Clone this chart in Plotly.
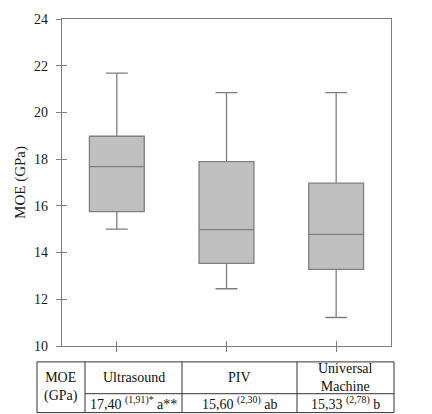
import plotly.graph_objects as go

categories = ["Ultrasound", "PIV", "Universal Machine"]
lower_fence = [15.0, 12.45, 11.22]
q1 = [15.75, 13.54, 13.28]
median = [17.68, 14.98, 14.78]
q3 = [18.98, 17.89, 16.97]
upper_fence = [21.68, 20.85, 20.85]

table_header = ["Ultrasound", "PIV", "Universal<br>Machine"]
table_means = ["17,40", "15,60", "15,33"]
table_sd = ["(1,91)*", "(2,30)", "(2,78)"]
table_letters = ["a**", "ab", "b"]
row_label = "MOE<br>(GPa)"

yticks = [10, 12, 14, 16, 18, 20, 22, 24]

FONT = "Liberation Serif, Times New Roman, serif"
LINE = "#7f7f7f"
FILL = "#c0c0c0"

fig = go.Figure()
fig.add_trace(go.Box(
    x=categories, q1=q1, median=median, q3=q3,
    lowerfence=lower_fence, upperfence=upper_fence,
    fillcolor=FILL, line=dict(color=LINE, width=1.3),
    width=0.5, whiskerwidth=0.4, boxpoints=False, showlegend=False,
    hoverinfo="skip",
))
# invisible trace to hold the overlay axes for crossing ticks
fig.add_trace(go.Scatter(x=[0], y=[yticks[0]], xaxis="x2", yaxis="y2",
                         mode="markers", marker=dict(opacity=0),
                         showlegend=False, hoverinfo="skip"))

L, R, T, B = 62, 41, 17, 68
W, H = 432, 414
pw, ph = W - L - R, H - T - B

def px(x):
    return (x - L) / pw

def py(y):
    return (H - B - y) / ph

fig.update_layout(
    width=W, height=H,
    margin=dict(l=L, r=R, t=T, b=B, pad=0),
    paper_bgcolor="white", plot_bgcolor="white",
    font=dict(family=FONT, size=14, color="#1a1a1a"),
    xaxis=dict(type="category", range=[-0.5, len(categories) - 0.5],
               showline=True, linecolor=LINE, linewidth=1.2, mirror=True,
               ticks="outside", ticklen=5, tickcolor=LINE, tickwidth=1,
               showticklabels=False, showgrid=False, zeroline=False,
               fixedrange=True),
    yaxis=dict(range=[yticks[0], yticks[-1]], tickvals=yticks,
               showline=True, linecolor=LINE, linewidth=1.2, mirror=True,
               ticks="outside", ticklen=5, tickcolor=LINE, tickwidth=1,
               ticklabelstandoff=5,
               showgrid=False, zeroline=False,
               title=dict(text="MOE (GPa)", standoff=4,
                          font=dict(size=15, family=FONT)),
               tickfont=dict(size=14, family=FONT, color="#1a1a1a")),
    xaxis2=dict(overlaying="x", range=[-0.5, len(categories) - 0.5],
                tickvals=list(range(len(categories))),
                ticks="inside", ticklen=5, tickcolor=LINE, tickwidth=1,
                showticklabels=False, showline=False, showgrid=False,
                zeroline=False, anchor="y2"),
    yaxis2=dict(overlaying="y", range=[yticks[0], yticks[-1]], tickvals=yticks,
                ticks="inside", ticklen=5, tickcolor=LINE, tickwidth=1,
                showticklabels=False, showline=False, showgrid=False,
                zeroline=False, anchor="x2"),
)

# table below the chart
tl, tr, tt, tb, tm = 37, 394, 362, 413, 394
cols = [37, 85, 182, 297, 394]
tcol = "#333333"
shapes = []
shapes.append(dict(type="rect", xref="paper", yref="paper",
                   x0=px(tl), x1=px(tr), y0=py(tb), y1=py(tt),
                   line=dict(color=tcol, width=1)))
for c in cols[1:-1]:
    shapes.append(dict(type="line", xref="paper", yref="paper",
                       x0=px(c), x1=px(c), y0=py(tb), y1=py(tt),
                       line=dict(color=tcol, width=1)))
shapes.append(dict(type="line", xref="paper", yref="paper",
                   x0=px(cols[1]), x1=px(tr), y0=py(tm), y1=py(tm),
                   line=dict(color=tcol, width=1)))
fig.update_layout(shapes=shapes)

ann = []
ann.append(dict(x=px((cols[0] + cols[1]) / 2), y=py((tt + tb) / 2),
                xref="paper", yref="paper", text=row_label, showarrow=False,
                xanchor="center", yanchor="middle",
                font=dict(size=14, family=FONT, color="#111111")))
for i in range(len(categories)):
    cx = px((cols[i + 1] + cols[i + 2]) / 2)
    ann.append(dict(x=cx, y=py((tt + tm) / 2), xref="paper", yref="paper",
                    text=table_header[i], showarrow=False,
                    xanchor="center", yanchor="middle",
                    font=dict(size=14, family=FONT, color="#111111")))
    ann.append(dict(x=cx, y=py((tm + tb) / 2), xref="paper", yref="paper",
                    text=f"{table_means[i]} <sup>{table_sd[i]}</sup> {table_letters[i]}",
                    showarrow=False, xanchor="center", yanchor="middle",
                    font=dict(size=14, family=FONT, color="#111111")))
fig.update_layout(annotations=ann)

fig.write_html("out.html", config={"displayModeBar": False},
               post_script="document.body.style.margin='0';document.body.style.overflow='hidden';")
